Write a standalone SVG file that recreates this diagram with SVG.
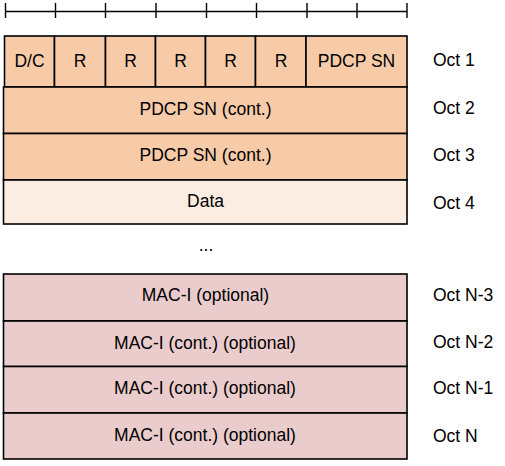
<svg xmlns="http://www.w3.org/2000/svg" width="505" height="466" viewBox="0 0 505 466">
<style>
.b{stroke:#000;stroke-width:1.6}
.o{fill:#F8CBA8}
.d{fill:#FCEDE2}
.m{fill:#EACCCC}
text{font-family:"Liberation Sans",Arial,sans-serif;font-size:17.5px;fill:#000}
.c{text-anchor:middle}
.r{stroke:#000;stroke-width:1.4;fill:none}
</style>
<g id="ruler">
<path class="r" d="M5 11.5H407M5.5 3V18M55.5 3V18M105.5 3V18M156 3V18M206.5 3V18M256.5 3V18M307 3V18M357 3V18M407 3V18"/>
</g>
<g id="oct1">
<rect class="b o" x="4.5" y="36" width="50" height="51"/>
<rect class="b o" x="54.5" y="36" width="51" height="51"/>
<rect class="b o" x="105.5" y="36" width="50" height="51"/>
<rect class="b o" x="155.5" y="36" width="50" height="51"/>
<rect class="b o" x="205.5" y="36" width="50" height="51"/>
<rect class="b o" x="255.5" y="36" width="50.5" height="51"/>
<rect class="b o" x="306" y="36" width="101" height="51"/>
<text class="c" x="29.5" y="66.5">D/C</text>
<text class="c" x="80" y="66.5">R</text>
<text class="c" x="130.5" y="66.5">R</text>
<text class="c" x="180.5" y="66.5">R</text>
<text class="c" x="230.5" y="66.5">R</text>
<text class="c" x="281" y="66.5">R</text>
<text class="c" x="356.5" y="66.5">PDCP SN</text>
<text x="433" y="66">Oct 1</text>
</g>
<g id="oct2">
<rect class="b o" x="3.5" y="87" width="403.5" height="46.5"/>
<text class="c" x="205.5" y="114.5">PDCP SN (cont.)</text>
<text x="433" y="114">Oct 2</text>
</g>
<g id="oct3">
<rect class="b o" x="3.5" y="133.5" width="403.5" height="46.5"/>
<text class="c" x="205.5" y="161">PDCP SN (cont.)</text>
<text x="433" y="160.5">Oct 3</text>
</g>
<g id="oct4">
<rect class="b d" x="3.5" y="180" width="403.5" height="44"/>
<text class="c" x="205.5" y="206.5">Data</text>
<text x="433" y="208.5">Oct 4</text>
</g>
<text class="c" x="206" y="251">...</text>
<g id="octN3">
<rect class="b m" x="3.5" y="274" width="403.5" height="47"/>
<text class="c" x="205.5" y="301">MAC-I (optional)</text>
<text x="433" y="300.5">Oct N-3</text>
</g>
<g id="octN2">
<rect class="b m" x="3.5" y="321" width="403.5" height="45.5"/>
<text class="c" x="205" y="349">MAC-I (cont.) (optional)</text>
<text x="433" y="347.5">Oct N-2</text>
</g>
<g id="octN1">
<rect class="b m" x="3.5" y="366.5" width="403.5" height="46.5"/>
<text class="c" x="205" y="394">MAC-I (cont.) (optional)</text>
<text x="433" y="394">Oct N-1</text>
</g>
<g id="octN">
<rect class="b m" x="3.5" y="413" width="403.5" height="46"/>
<text class="c" x="205" y="441">MAC-I (cont.) (optional)</text>
<text x="433" y="442">Oct N</text>
</g>
</svg>
